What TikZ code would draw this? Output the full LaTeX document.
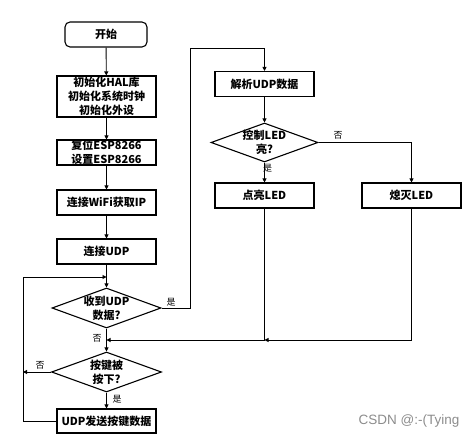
\documentclass[tikz,border=0pt]{standalone}
\usepackage{fontspec}
\setmainfont{Noto Sans CJK SC}
\newfontfamily\wmfont{Liberation Sans}
\usetikzlibrary{shapes.geometric,arrows.meta,calc}
\tikzset{
  box/.style={draw, line width=1.1pt, minimum width=99pt, minimum height=25pt, inner sep=0pt, align=center, font=\bfseries\fontsize{11}{13.8}\selectfont},
  startbox/.style={box, rounded corners=5pt, minimum width=82pt},
  dia/.style={draw, diamond, line width=1.1pt, inner sep=0pt},
  dtxt/.style={align=center, inner sep=0pt, font=\bfseries\fontsize{11}{13.8}\selectfont},
  lbl/.style={inner sep=0pt, font=\fontsize{9}{10}\selectfont},
  conn/.style={line width=0.9pt, -{Triangle[length=4pt,width=4pt]}},
  line/.style={line width=0.9pt}
}
\begin{document}
\begin{tikzpicture}[x=1pt,y=-1pt]
\useasboundingbox (0,0) rectangle (474,438);
% left column
\node[startbox] (start) at (106,34.5) {开始};
\node[box, minimum height=41pt] (init) at (106.5,96.5) {初始化HAL库\\初始化系统时钟\\初始化外设};
\node[box] (reset) at (106.5,152.5) {复位ESP8266\\设置ESP8266};
\node[box] (wifi) at (106.5,202.5) {连接WiFi获取IP};
\node[box] (udp) at (106.5,251.5) {连接UDP};
\node[dia, minimum width=109pt, minimum height=40pt] (d1) at (106.5,308) {};
\node[dtxt] at (d1) {收到UDP\\数据?};
\node[dia, minimum width=110pt, minimum height=40pt] (d2) at (106.5,372) {};
\node[dtxt] at (d2) {按键被\\按下?};
\node[box, minimum height=24pt] (send) at (106.5,421) {UDP发送按键数据};
% right part
\node[box] (parse) at (264.5,84) {解析UDP数据};
\node[dia, minimum width=107pt, minimum height=39pt] (d3) at (264.5,142.5) {};
\node[dtxt] at (d3) {控制LED\\亮?};
\node[box] (on) at (264.5,195.5) {点亮LED};
\node[box] (off) at (411.5,195.5) {熄灭LED};
% helper coordinates
\coordinate (loopL) at (23,277);
\coordinate (loopIn) at (106.5,277);
\coordinate (noL) at (23,372);
\coordinate (yesUp) at (190,48);
\coordinate (mergeR) at (411.5,340);
\coordinate (mergeM) at (264.5,340);
\coordinate (mergeIn) at (106.5,340);
% connectors
\draw[conn] (start) -- (init);
\draw[conn] (init) -- (reset);
\draw[conn] (reset) -- (wifi);
\draw[conn] (wifi) -- (udp);
\draw[conn] (udp) -- (d1);
\draw[conn] (d1) -- (d2);
\draw[conn] (d2) -- (send);
\draw[line] (send.west) -| (loopL);
\draw[conn] (loopL) -- (loopIn);
\draw[conn] (d2.west) -- (noL);
\draw[conn] (d1.east) -| (yesUp) -| (parse.north);
\draw[conn] (parse) -- (d3.north);
\draw[conn] (d3.south) -- (on);
\draw[conn] (d3.east) -| (off.north);
\draw[line] (on.south) -- (mergeM);
\draw[conn] (off.south) -- (mergeR) -- (mergeM);
\draw[conn] (mergeM) -- (mergeIn);
% labels
\node[lbl] at (171,302) {是};
\node[lbl] at (97,338) {否};
\node[lbl] at (40,365) {否};
\node[lbl] at (117,399) {是};
\node[lbl] at (267.5,168) {是};
\node[lbl] at (338,135) {否};
% watermark
\node[inner sep=0pt, text=black!45, font=\wmfont\fontsize{13.5}{14}\selectfont] (wm) at (409,421) {CSDN @:-(Tying};
\end{tikzpicture}
\end{document}
